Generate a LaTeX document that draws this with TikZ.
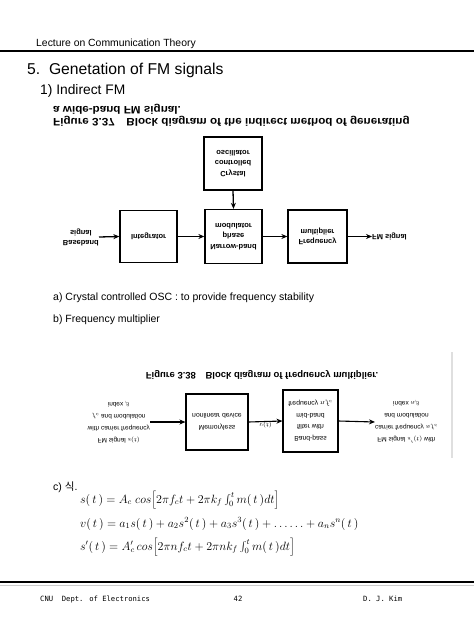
\documentclass[tikz,border=0pt]{standalone}
\usepackage{fontspec}
\setmainfont{Liberation Sans}
\newfontfamily\krfont{Noto Sans CJK KR}
\newfontfamily\footfont{DejaVu Sans Mono}
\usetikzlibrary{arrows.meta}
\begin{document}
\begin{tikzpicture}[x=1pt,y=-1pt,
  slidetext/.style={anchor=base west, inner sep=0pt},
  boxa/.style={draw, line width=1.3pt, inner sep=0pt, align=center,
     font=\fontsize{7.5}{10.5}\selectfont\bfseries, yscale=-1},
  boxb/.style={draw, line width=1.1pt, inner sep=0pt, align=center,
     font=\fontsize{6.8}{11.5}\selectfont, yscale=-1},
  flipa/.style={inner sep=0pt, align=center,
     font=\fontsize{7.5}{10}\selectfont\bfseries, yscale=-1},
  flipb/.style={inner sep=0pt, align=center,
     font=\fontsize{6.5}{12}\selectfont, yscale=-1},
  arr/.style={line width=1.3pt, -{Stealth[length=6pt,width=5pt]}},
  eqn/.style={anchor=base west, inner sep=0pt, font=\fontsize{11.7}{14}\selectfont}
]
\useasboundingbox[fill=white] (0,0) rectangle (474,631);

% header
\node[slidetext, font=\fontsize{10.4}{12}\selectfont] (hdr) at (36,47) {Lecture on Communication Theory};
\draw[line width=1.2pt] (0,51) -- (474,51);
\node[slidetext, font=\fontsize{15.7}{18}\selectfont] (ttl) at (27,75) {5.\ \ Genetation of FM signals};
\node[slidetext, font=\fontsize{13.8}{16}\selectfont] (sub) at (40,95) {1) Indirect FM};

% Figure 3.37 (scanned upside down)
\node[flipa, anchor=west, align=left, xscale=1.08, font=\fontsize{10.8}{12}\selectfont\bfseries] (cap1) at (53,115.5)
  {Figure 3.37\quad Block diagram of the indirect method of generating\\a wide-band FM signal.};
\node[boxa, minimum width=58pt, minimum height=53pt] (xtal) at (233,163.5) {Crystal\\controlled\\oscillator};
\node[boxa, minimum width=57pt, minimum height=52pt] (intg) at (148.5,236.5) {Integrator};
\node[boxa, minimum width=57pt, minimum height=54pt] (nbpm) at (233.5,236.5) {Narrow-band\\phase\\modulator};
\node[boxa, minimum width=59pt, minimum height=53pt] (fmul) at (317.5,236.5) {Frequency\\multiplier};
\node[flipa, anchor=east] (base) at (99,237) {Baseband\\signal};
\node[flipa, anchor=west] (fmout) at (372,236.5) {FM signal};
\draw[arr] (base.east) -- (intg.west);
\draw[arr] (intg.east) -- (nbpm.west);
\draw[arr] (nbpm.east) -- (fmul.west);
\draw[arr] (fmul.east) -- (fmout.west);
% boxes are flipped: their north anchor lies at the bottom on the page
\draw[arr] (xtal.north) -- (nbpm.south);

% text a) b)
\node[slidetext, font=\fontsize{10.5}{12}\selectfont] (ta) at (53,300) {a) Crystal controlled OSC : to provide frequency stability};
\node[slidetext, font=\fontsize{10.5}{12}\selectfont] (tb) at (53,322) {b) Frequency multiplier};

% Figure 3.38 (scanned upside down)
\node[flipa, font=\fontsize{9.5}{11}\selectfont\bfseries] (cap2) at (262,375) {Figure 3.38\quad Block diagram of frequency multiplier.};
\node[boxb, minimum width=62pt, minimum height=56pt] (mem) at (217,422) {Memoryless\\nonlinear device};
\node[boxb, minimum width=55pt, minimum height=62pt] (bpf) at (310.5,421) {Band-pass\\filter with\\mid-band\\frequency $nf_c$};
\node[flipb, anchor=east] (sin) at (150,422) {FM signal $s(t)$\\with carrier frequency\\$f_c$ and modulation\\index $\beta$};
\node[flipb, anchor=west] (sout) at (375,422) {FM signal $s'(t)$ with\\carrier frequency $nf_c$\\and modulation\\index $n\beta$};
\draw[arr, line width=1.1pt] (sin.east) -- (mem.west);
\draw[arr, line width=1.1pt] (mem.east) -- (bpf.west) node[midway, below=7pt, flipb] (vt) {$v(t)$};
\draw[arr, line width=1.1pt] (bpf.east) -- (sout.west);
\draw[gray!25, line width=2pt] (452,352) -- (452,458);

% c)
\node[slidetext, font=\fontsize{10.5}{12}\selectfont] (tc) at (53,490) {c) {\krfont 식}.};
\node[eqn] (e1) at (80,503) {$s(\,t\,)=A_c\;cos\Big[2\pi f_c t+2\pi k_f\int_0^t m(\,t\,)dt\Big]$};
\node[eqn] (e2) at (80,527) {$v(\,t\,)=a_1 s(\,t\,)+a_2 s^2(\,t\,)+a_3 s^3(\,t\,)+\ldots\ldots+a_n s^n(\,t\,)$};
\node[eqn] (e3) at (80,550) {$s'(\,t\,)=A_c'\,cos\Big[2\pi nf_c t+2\pi nk_f\int_0^t m(\,t\,)dt\Big]$};

% footer
\draw[line width=2pt] (0,581.5) -- (474,581.5);
\draw[gray!40, line width=1pt] (0,585) -- (474,585);
\node[slidetext, font=\footfont\fontsize{7.2}{9}\selectfont] (f1) at (40,601) {CNU\ \ Dept. of Electronics};
\node[anchor=base, inner sep=0pt, font=\footfont\fontsize{7.2}{9}\selectfont] (f2) at (238,601) {42};
\node[slidetext, font=\footfont\fontsize{7.2}{9}\selectfont] (f3) at (363,601) {D. J. Kim};
\end{tikzpicture}
\end{document}
